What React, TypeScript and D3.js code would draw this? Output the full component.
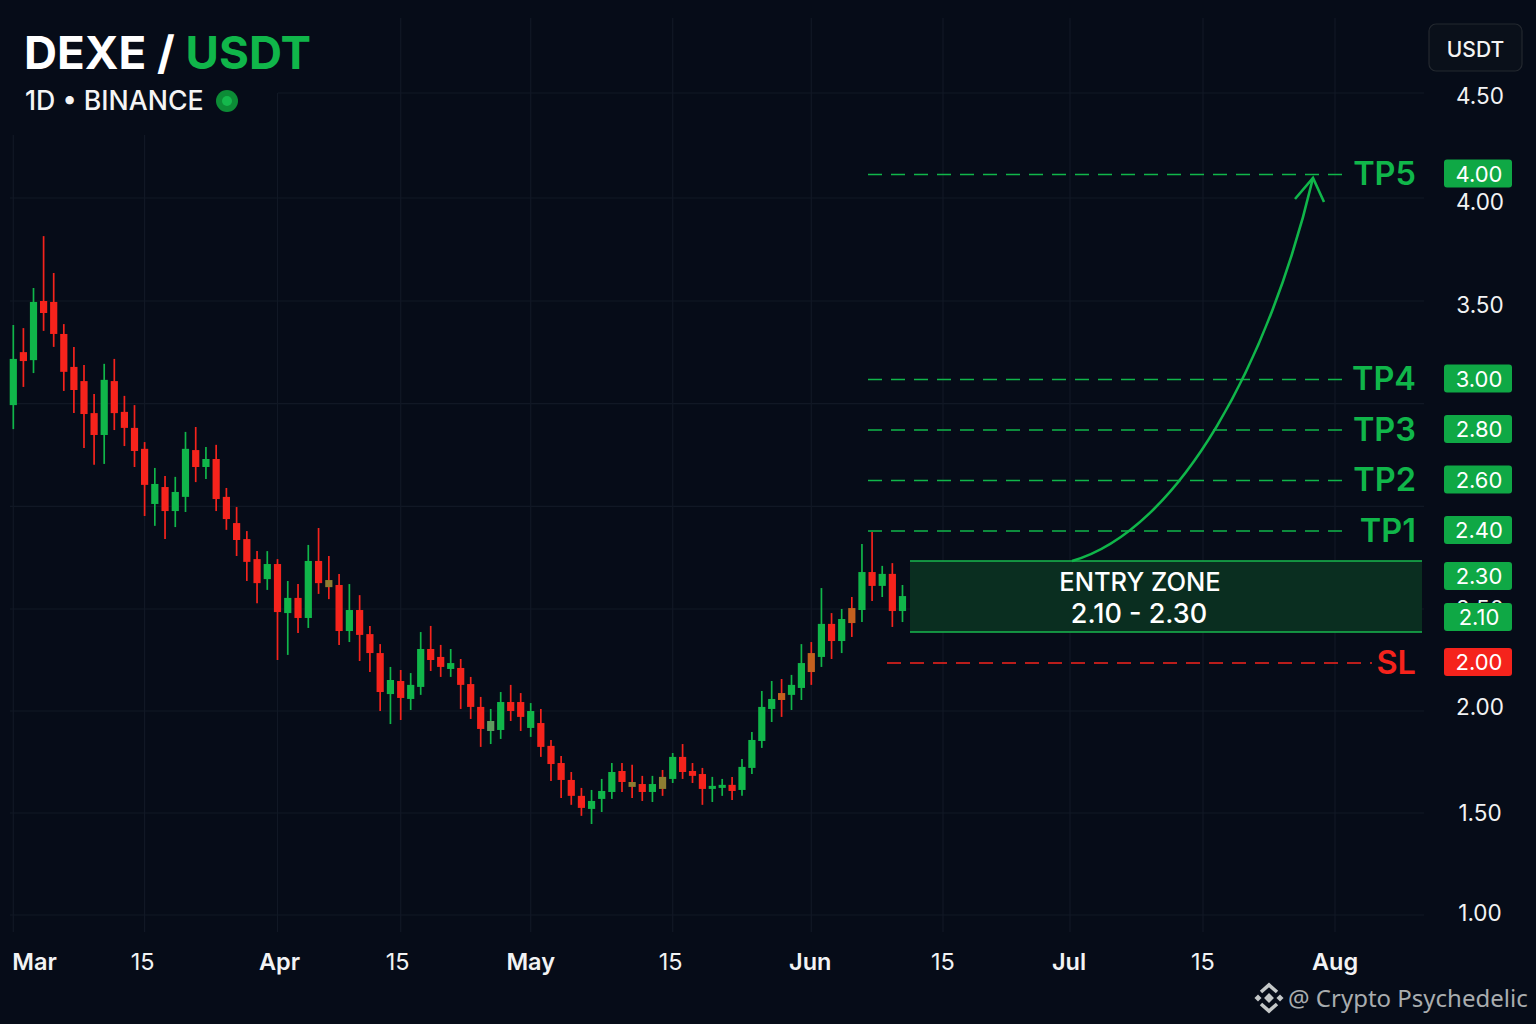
import React from "react";
import * as d3 from "d3";

// Candles (one entry per session, oldest first)
const opens = [3.162,3.334,3.308,3.5,3.497,3.393,3.286,3.24,3.136,3.065,3.24,3.14,3.088,3.02,2.841,2.896,2.818,2.864,3.016,2.961,2.987,2.864,2.779,2.727,2.662,2.597,2.646,2.48,2.536,2.456,2.656,2.594,2.578,2.392,2.495,2.377,2.284,2.083,2.147,2.059,2.118,2.304,2.265,2.206,2.211,2.132,2.02,1.902,1.907,2.044,2.044,1.917,1.941,1.829,1.745,1.662,1.584,1.52,1.569,1.603,1.706,1.652,1.642,1.603,1.677,1.667,1.775,1.706,1.691,1.618,1.623,1.638,1.613,1.721,1.853,2.01,2.088,2.079,2.113,2.284,2.265,2.427,2.343,2.503,2.495,2.62,2.575,2.614,2.49];
const closes = [3.312,3.305,3.497,3.461,3.393,3.27,3.211,3.133,3.065,3.244,3.136,3.088,3.013,2.903,2.906,2.818,2.88,3.02,2.961,2.987,2.857,2.792,2.724,2.653,2.584,2.646,2.485,2.536,2.456,2.656,2.584,2.571,2.392,2.495,2.373,2.284,2.093,2.152,2.064,2.128,2.304,2.25,2.216,2.235,2.128,2.02,1.912,1.951,2.044,2.0,1.971,2.0,1.824,1.74,1.662,1.584,1.525,1.559,1.608,1.701,1.652,1.628,1.603,1.642,1.618,1.775,1.701,1.682,1.618,1.633,1.638,1.608,1.726,1.858,2.02,2.059,2.054,2.128,2.235,2.191,2.427,2.343,2.451,2.431,2.62,2.575,2.614,2.49,2.542];
const highs = [3.422,3.412,3.563,3.815,3.636,3.425,3.351,3.292,3.198,3.296,3.312,3.192,3.162,3.042,2.958,2.932,2.929,3.075,3.091,3.026,3.033,2.893,2.831,2.753,2.688,2.688,2.662,2.591,2.581,2.708,2.763,2.672,2.614,2.581,2.545,2.417,2.328,2.216,2.201,2.186,2.387,2.417,2.324,2.304,2.255,2.167,2.069,2.01,2.093,2.128,2.088,2.039,2.01,1.858,1.78,1.701,1.623,1.613,1.667,1.745,1.745,1.736,1.682,1.682,1.711,1.794,1.838,1.745,1.721,1.677,1.667,1.677,1.765,1.897,2.098,2.147,2.157,2.177,2.328,2.338,2.568,2.48,2.5,2.539,2.711,2.75,2.64,2.649,2.578];
const lows = [3.084,3.221,3.266,3.403,3.351,3.208,3.136,3.023,2.968,2.971,3.081,3.029,2.961,2.802,2.77,2.727,2.766,2.815,2.912,2.922,2.818,2.757,2.672,2.591,2.519,2.562,2.25,2.275,2.382,2.407,2.549,2.532,2.324,2.338,2.245,2.191,2.0,1.936,1.956,2.005,2.079,2.196,2.167,2.167,2.01,1.961,1.824,1.838,1.863,1.951,1.902,1.873,1.775,1.657,1.574,1.54,1.486,1.446,1.505,1.569,1.603,1.574,1.559,1.554,1.584,1.647,1.667,1.647,1.54,1.554,1.584,1.564,1.584,1.691,1.819,1.946,1.971,2.005,2.054,2.128,2.216,2.255,2.284,2.363,2.436,2.526,2.539,2.412,2.436];
// sessions (1-based) whose body is drawn in a muddy tone
const oliveSessions = [32, 62, 65];
const sageSessions = [48];
const orangeSessions = [77, 80, 84];

// Time axis
const timeLabels = ["Mar","15","Apr","15","May","15","Jun","15","Jul","15","Aug"];
const timeSessions = [1,14,27,39,52,66,80,93,106,119,132];
const timeBold = ["Mar","Apr","May","Jun","Jul","Aug"];

// Price axis
const priceTicks = [1,1.5,2,2.5,3.5,4,4.5];
const priceRange = [915,813,711,609,301,198,93];
const extraGrid = [2.8333,3.1667];

// Trade levels
const levelNames = ["TP5","TP4","TP3","TP2","TP1","SL"];
const levelValues = [4,3,2.8,2.6,2.4,2];
const zoneValues = [2.3,2.1];

const GREEN = "#10b64a", RED = "#f5231c", GRID = "#111825", BG = "#060c18";
const FONT = "Inter, sans-serif";

const x = d3.scaleLinear().domain(timeSessions).range([13.3,144.6,277.5,400.7,530.7,672.7,811.3,943,1070,1203,1335]);
const y = d3.scaleLinear().domain(priceTicks).range(priceRange);
const yLevel = d3.scaleLinear().domain([2,2.1,2.3,2.4,3,4]).range([663,632,561,531,379.5,174.5]);

const tickLabelDy = [-2,0,-4,0,4,4,3];
const timeLabelDx = [-1,-2,2,-3,0,-2,-1,0,-1,0,0];
const tagDy: Record<string, number> = { "2.3": 16, "2.1": -14 };

const arrowPath = (() => {
  const p = d3.path();
  p.moveTo(1072, 561);
  p.bezierCurveTo(1180, 530, 1270, 360, 1313, 178);
  return p.toString();
})();
const headPath = d3.line()([[1295,199],[1313,178],[1324,202]]) as string;

function Tag({ value, color, dy = 0 }: { value: number; color: string; dy?: number }) {
  const cy = yLevel(value) + dy;
  return (
    <g>
      <rect x={1444} y={cy - 15} width={68} height={28} rx={3} fill={color} />
      <text x={1479} y={cy + 7} textAnchor="middle" fontSize={22} fill="#fff" fontFamily={FONT}>{value.toFixed(2)}</text>
    </g>
  );
}

export default function App() {
  const idx = d3.range(opens.length);
  return (
    <svg width={1536} height={1024} style={{ position: "fixed", left: 0, top: 0 }} fontFamily={FONT}>
      <rect width={1536} height={1024} fill={BG} />

      {/* grid */}
      {[...priceTicks, ...extraGrid].map((v) => (
        <line key={v} x1={v === 4.5 ? 278 : 10} x2={1424} y1={y(v)} y2={y(v)} stroke={GRID} strokeWidth={1.2} />
      ))}
      {timeSessions.map((s, i) => (
        <line key={i} x1={x(s)} x2={x(s)} y1={i < 2 ? 135 : i === 2 ? 93 : 18} y2={932} stroke={GRID} strokeWidth={1.2} />
      ))}

      {/* candles */}
      {idx.map((i) => {
        const s = i + 1;
        const up = closes[i] >= opens[i];
        const fill = oliveSessions.includes(s) ? "#8d7d32" : sageSessions.includes(s) ? "#5f9a5f" : orangeSessions.includes(s) ? "#c4601f" : up ? GREEN : RED;
        const wick = up ? GREEN : RED;
        const top = y(Math.max(opens[i], closes[i]));
        const bot = y(Math.min(opens[i], closes[i]));
        return (
          <g key={i}>
            <line x1={x(s)} x2={x(s)} y1={y(highs[i])} y2={y(lows[i])} stroke={wick} strokeWidth={1.7} />
            <rect x={x(s) - 3.6} y={top} width={7.2} height={Math.max(bot - top, 2)} fill={fill} />
          </g>
        );
      })}

      {/* price labels */}
      {priceTicks.map((v, i) => (
        <text key={v} x={1480} y={y(v) + tickLabelDy[i] + 8} textAnchor="middle" fontSize={22.5} fill="#f2f3f4">{v.toFixed(2)}</text>
      ))}

      {/* time labels */}
      {timeLabels.map((t, i) => (
        <text key={i} x={x(timeSessions[i]) + timeLabelDx[i]} y={970} textAnchor={i === 0 ? "start" : "middle"}
          fontSize={23.5} fontWeight={timeBold.includes(t) ? 600 : 400} fill="#f2f3f4">{t}</text>
      ))}

      {/* entry zone */}
      <rect x={910} y={yLevel(2.3)} width={512} height={yLevel(2.1) - yLevel(2.3)} fill="#0a2e20" />
      {zoneValues.map((v) => (
        <line key={v} x1={910} x2={1422} y1={yLevel(v)} y2={yLevel(v)} stroke="#18b84e" strokeWidth={1.5} />
      ))}
      <text x={1140} y={591} textAnchor="middle" fontSize={25.5} fontWeight={500} fill="#fff">ENTRY ZONE</text>
      <text x={1139} y={623} textAnchor="middle" fontSize={27} fontWeight={500} fill="#fff">2.10 - 2.30</text>

      {/* levels */}
      {levelNames.map((n, i) => {
        const isSL = n === "SL";
        const c = isSL ? RED : GREEN;
        const ly = yLevel(levelValues[i]);
        return (
          <g key={n}>
            <line x1={isSL ? 887 : 868} x2={isSL ? 1372 : 1350} y1={ly} y2={ly} stroke={c} strokeWidth={1.6} strokeDasharray="14 9" />
            <text x={1416} y={ly + 10.5} textAnchor="end" fontSize={32.5} fontWeight={600} fill={c}>{n}</text>
            <Tag value={levelValues[i]} color={isSL ? RED : "#0fa845"} />
          </g>
        );
      })}
      {zoneValues.map((v) => (
        <Tag key={v} value={v} color="#0fa845" dy={tagDy[String(v)]} />
      ))}

      {/* arrow */}
      <path d={arrowPath} fill="none" stroke={GREEN} strokeWidth={2.6} />
      <path d={headPath} fill="none" stroke={GREEN} strokeWidth={2.6} />

      {/* title */}
      <text x={24} y={69} fontSize={45.7} fontWeight={700} fill="#fff">DEXE / <tspan fill={GREEN}>USDT</tspan></text>
      <text x={25} y={110} fontSize={26.7} fontWeight={500} fill="#f4f4f4">1D • BINANCE</text>
      <circle cx={227} cy={101} r={11} fill="#0c8c36" />
      <circle cx={227} cy={101} r={5} fill="#14b84c" />

      {/* unit button */}
      <rect x={1429} y={24} width={93} height={47} rx={7} fill="#0a101a" stroke="#23282f" strokeWidth={1.2} />
      <text x={1475.5} y={57} textAnchor="middle" fontSize={21} fontWeight={500} fill="#f4f4f4">USDT</text>

      {/* watermark */}
      <g fill="#c4c8c8" transform="translate(1269 998)">
        <rect x={-3.5} y={-3.5} width={7} height={7} transform="rotate(45)" />
        <rect x={-13.5} y={-2.5} width={5} height={5} transform="rotate(45 -11 0)" />
        <rect x={8.5} y={-2.5} width={5} height={5} transform="rotate(45 11 0)" />
        <path d="M-8 -6 L0 -13 L8 -6" fill="none" stroke="#c4c8c8" strokeWidth={3.6} />
        <path d="M-8 6 L0 13 L8 6" fill="none" stroke="#c4c8c8" strokeWidth={3.6} />
      </g>
      <text x={1288} y={1007} fontSize={24} fill="#a9adaf" fontFamily="'Noto Sans', sans-serif">@ Crypto Psychedelic</text>
    </svg>
  );
}
